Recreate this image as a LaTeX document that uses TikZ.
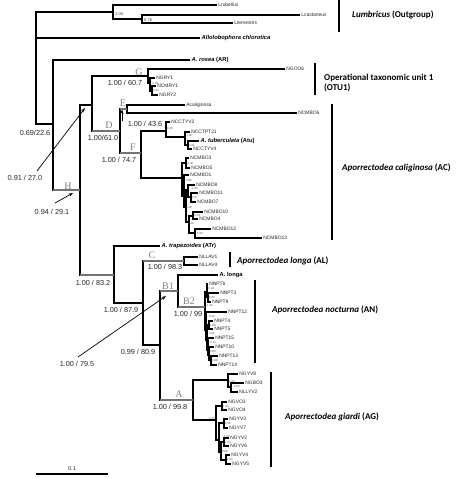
\documentclass[tikz,border=0pt]{standalone}
\usepackage{fontspec}
\setmainfont{Liberation Sans}
\newfontfamily\serifgl{Liberation Serif}
\newfontfamily\carl{Carlito}
\usetikzlibrary{arrows.meta}
\newcommand\mkedge[2]{\draw[branch] (#1) |- (#2);}
\newcommand\mkleaf[4]{\node[leaf] (#2) at (#3) {#4}; \draw[branch] (#1) |- (#2.west);}
\newcommand\mkspec[4]{\node[species] (#2) at (#3) {#4}; \draw[branch] (#1) |- (#2.west);}
\tikzset{
 branch/.style={line width=1.1pt},
 hl/.style={line width=1.5pt, draw=black!55},
 leaf/.style={anchor=west, inner sep=1.2pt, font=\fontsize{4.9}{5}\selectfont, text=black!85},
 species/.style={anchor=west, inner sep=1.5pt, font=\bfseries\fontsize{5.8}{6}\selectfont, text=black},
 sp/.style={anchor=west, inner sep=0pt, font=\fontsize{2.8}{3}\selectfont, text=black!70},
 spb/.style={anchor=west, inner sep=0pt, font=\fontsize{4}{4}\selectfont, text=black!80},
 supp/.style={inner sep=0pt, font=\fontsize{7.3}{8}\selectfont, text=black!85},
 lett/.style={inner sep=0pt, font=\serifgl\fontsize{10}{10}\selectfont, text=black!50},
 clade/.style={anchor=west, inner sep=0pt, align=left, font=\carl\bfseries\fontsize{9}{10.5}\selectfont},
 cbar/.style={line width=2pt},
 arr/.style={-{Stealth[length=4.5pt,width=3.2pt]}, line width=0.7pt},
}
\begin{document}
\begin{tikzpicture}[x=1pt,y=-1pt]
\useasboundingbox (0,0) rectangle (474,479);
\fill[white] (0,0) rectangle (474,479);
% ---------- outgroup ----------
\coordinate (root) at (36,68);
\coordinate (Lum) at (113,12);
\coordinate (nLc) at (142,19);
\mkedge{root}{Lum}
\mkleaf{Lum}{Lrub}{217,5}{Lrubellus}
\mkedge{Lum}{nLc}
\mkleaf{nLc}{Lcas}{300,15}{Lcastaneus}
\mkleaf{nLc}{Ltem}{233,23}{Ltemestris}
\node[spb] (s100a) at (115,14) {1.00};
\node[spb] (s076) at (144,20) {0.76};
\mkspec{root}{Allo}{200,38}{\textit{Allolobophora chlorotica}}
% ---------- main ----------
\coordinate (n069) at (53,124);
\mkedge{root}{n069}
\mkspec{n069}{Aros}{190,60}{\textit{A. rosea} (AR)}
\coordinate (nH) at (80,190);
\mkedge{n069}{nH}
\coordinate (n091) at (92,105);
\mkedge{nH}{n091}
% G / OTU1
\coordinate (nG) at (148,76);
\mkedge{n091}{nG}
\mkleaf{nG}{NGOO6}{285,69}{NGOO6}
\coordinate (g2) at (150,83);
\mkedge{nG}{g2}
\mkleaf{g2}{NGRY1}{155,78}{NGRY1}
\coordinate (g3) at (152,91);
\mkedge{g2}{g3}
\mkleaf{g3}{NCMRY1}{156,86}{NCMRY1}
\mkleaf{g3}{NGRY2}{158,95}{NGRY2}
\node[sp] (s034a) at (152.5,83.5) {0.34};
\node[sp] (s034b) at (153,90.5) {0.34};
% D
\coordinate (nD) at (120,131);
\mkedge{n091}{nD}
\coordinate (nE) at (127,109);
\mkedge{nD}{nE}
\mkleaf{nE}{Acal}{185,105}{Acaliginosa}
\mkleaf{nE}{NCMBO6}{297,113}{NCMBO6}
\coordinate (nF) at (141,153);
\mkedge{nD}{nF}
\coordinate (nTY) at (166,131);
\mkedge{nF}{nTY}
\mkleaf{nTY}{NCCTYV2}{170,122}{NCCTYV2}
\coordinate (nTu) at (185,137);
\mkedge{nTY}{nTu}
\mkleaf{nTu}{NCCTPT21}{190,132}{NCCTPT21}
\coordinate (nTu2) at (188,145);
\mkedge{nTu}{nTu2}
\mkspec{nTu2}{Atu}{199,141}{\textit{A. tuberculata} (Atu)}
\mkleaf{nTu2}{NCCTYV4}{192,149}{NCCTYV4}
\node[sp] (s045) at (167,128.5) {0.45};
\node[sp] (s100b) at (186.5,135.5) {1.00};
\node[sp] (s051) at (189,145.5) {0.51};
% NCMBO clade
\coordinate (nMB) at (182,178);
\mkedge{nF}{nMB}
\coordinate (m1) at (186,163);
\mkedge{nMB}{m1}
\mkleaf{m1}{NCMBO3}{189,158}{NCMBO3}
\mkleaf{m1}{NCMBO5}{190,168}{NCMBO5}
\coordinate (m2) at (184,196);
\mkedge{nMB}{m2}
\mkleaf{m2}{NCMBO1}{189,175}{NCMBO1}
\coordinate (m3) at (186,207);
\mkedge{m2}{m3}
\coordinate (m4) at (188,190);
\mkedge{m3}{m4}
\mkleaf{m4}{NCMBO8}{195,185}{NCMBO8}
\coordinate (m4b) at (191,197);
\mkedge{m4}{m4b}
\mkleaf{m4b}{NCMBO11}{198,193}{NCMBO11}
\mkleaf{m4b}{NCMBO7}{196,202}{NCMBO7}
\coordinate (m5) at (189,222);
\mkedge{m3}{m5}
\coordinate (m6) at (193,216);
\mkedge{m5}{m6}
\mkleaf{m6}{NCMBO10}{203,212}{NCMBO10}
\mkleaf{m6}{NCMBO4}{198,219}{NCMBO4}
\coordinate (m7) at (195,233);
\mkedge{m5}{m7}
\mkleaf{m7}{NCMBO12}{211,229}{NCMBO12}
\mkleaf{m7}{NCMBO13}{262,238}{NCMBO13}
\node[sp] (s046a) at (187.5,163.5) {0.46};
\node[sp] (s089) at (186,180.5) {0.89};
\node[sp] (s100c) at (192,189) {1.00};
\node[sp] (s047) at (192,197.5) {0.47};
\node[sp] (s048) at (186,207.5) {0.48};
\node[sp] (s062) at (194.5,215.5) {0.62};
\node[sp] (s046b) at (188,223.5) {0.46};
\node[sp] (s090) at (197,233.5) {0.90};
% lower part
\coordinate (n832) at (114,275);
\mkedge{nH}{n832}
\mkspec{n832}{ATr}{160,246}{\textit{A. trapezoides} (ATr)}
\coordinate (n879) at (143,303);
\mkedge{n832}{n879}
\coordinate (nC) at (184,261);
\mkedge{n879}{nC}
\mkleaf{nC}{NLLAV1}{198,257}{NLLAV1}
\mkleaf{nC}{NLLAV4}{198,265}{NLLAV4}
\coordinate (n809) at (160,345);
\mkedge{n879}{n809}
\coordinate (nB1) at (178,291);
\mkedge{n809}{nB1}
\mkspec{nB1}{Alonga}{218,275}{A. longa}
\coordinate (nB2) at (205,307);
\mkedge{nB1}{nB2}
\coordinate (p1) at (207,292);
\mkedge{nB2}{p1}
\mkleaf{p1}{NNPT6}{208,284}{NNPT6}
\coordinate (p1b) at (208,297);
\mkedge{p1}{p1b}
\mkleaf{p1b}{NNPT3}{219,293}{NNPT3}
\mkleaf{p1b}{NNPT9}{211,302}{NNPT9}
\coordinate (p2) at (206,330);
\mkedge{nB2}{p2}
\mkleaf{p2}{NNPT12}{227,312}{NNPT12}
\coordinate (p3) at (207,340);
\mkedge{p2}{p3}
\coordinate (p4) at (209,325);
\mkedge{p3}{p4}
\mkleaf{p4}{NNPT4}{213,321}{NNPT4}
\mkleaf{p4}{NNPT5}{213,329}{NNPT5}
\coordinate (p5) at (208,350);
\mkedge{p3}{p5}
\mkleaf{p5}{NNPT15}{214,338}{NNPT15}
\coordinate (p6) at (209,355);
\mkedge{p5}{p6}
\mkleaf{p6}{NNPT10}{214,347}{NNPT10}
\coordinate (p7) at (211,360);
\mkedge{p6}{p7}
\mkleaf{p7}{NNPT13}{218,356}{NNPT13}
\mkleaf{p7}{NNPT14}{217,365}{NNPT14}
\node[sp] (s093) at (208.5,289) {0.93};
\node[sp] (s085) at (209,297.5) {0.85};
\node[sp] (s100d) at (207,306) {1.00};
\node[sp] (s092a) at (209,317) {0.92};
\node[sp] (s088a) at (210,325.5) {0.88};
\node[sp] (s092b) at (209,334) {0.92};
\node[sp] (s074) at (210,343) {0.74};
\node[sp] (s084a) at (210,352) {0.84};
\node[sp] (s088b) at (212,361) {0.88};
% A clade
\coordinate (nA) at (193,400);
\mkedge{n809}{nA}
\coordinate (a1) at (228,380);
\mkedge{nA}{a1}
\mkleaf{a1}{NGYV8}{238,374}{NGYV8}
\coordinate (a1b) at (231,387);
\mkedge{a1}{a1b}
\mkleaf{a1b}{NGBO3}{244,383}{NGBO3}
\mkleaf{a1b}{NLLYV2}{238,392}{NLLYV2}
\coordinate (a2) at (216,420);
\mkedge{nA}{a2}
\coordinate (a3) at (222,406);
\mkedge{a2}{a3}
\mkleaf{a3}{NGVO3}{227,402}{NGVO3}
\mkleaf{a3}{NGVO4}{227,410}{NGVO4}
\coordinate (a4) at (219,440);
\mkedge{a2}{a4}
\coordinate (a5) at (224,423);
\mkedge{a4}{a5}
\mkleaf{a5}{NGYV3}{228,419}{NGYV3}
\mkleaf{a5}{NGYV7}{228,428}{NGYV7}
\coordinate (a6) at (221,452);
\mkedge{a4}{a6}
\coordinate (a7) at (224,442);
\mkedge{a6}{a7}
\mkleaf{a7}{NGYV2}{229,438}{NGYV2}
\mkleaf{a7}{NGYV6}{229,446}{NGYV6}
\coordinate (a8) at (226,460);
\mkedge{a6}{a8}
\mkleaf{a8}{NGYV4}{230,455}{NGYV4}
\mkleaf{a8}{NGYV5}{231,464}{NGYV5}
\node[sp] (s100e) at (229,381.5) {1.00};
\node[sp] (s084b) at (234,386.5) {0.84};
\node[sp] (s100f) at (209,418.5) {1.00};
\node[sp] (s100g) at (223,406.5) {1.00};
\node[sp] (s036) at (225,423.5) {0.36};
\node[sp] (s100h) at (224,436.5) {1.00};
\node[sp] (s100i) at (225,443) {1.00};
\node[sp] (s039) at (222,451.5) {0.39};
\node[sp] (s100j) at (227,459.5) {1.00};
% highlighted branches
\draw[hl] (nH |- n832) -- (n832);
\draw[hl] (n069 |- nH) -- (nH);
\draw[hl] (n091 |- nD) -- (nD);
\draw[hl] (nD |- nE) -- (nE);
\draw[hl] (nD |- nF) -- (nF);
\draw[hl] (n879 |- nC) -- (nC);
\draw[hl] (n809 |- nB1) -- (nB1);
\draw[hl] (nB1 |- nB2) -- (nB2);
\draw[hl] (n809 |- nA) -- (nA);
% letters
\node[lett] (LG) at (139,72) {G};
\node[lett] (LE) at (123,103) {E};
\node[lett] (LD) at (109,125) {D};
\node[lett] (LF) at (133,147) {F};
\node[lett] (LH) at (68,186) {H};
\node[lett] (LC) at (152,255) {C};
\node[lett] (LB1) at (168,286) {B1};
\node[lett] (LB2) at (189,301) {B2};
\node[lett] (LA) at (179,394) {A};
% support labels
\node[supp] (t069) at (35,133) {0.69/22.6};
\node[supp] (t607) at (125,83) {1.00 / 60.7};
\node[supp] (t610) at (103,138) {1.00/61.0};
\node[supp] (t747) at (119,160) {1.00 / 74.7};
\node[supp] (t832) at (93,283) {1.00 / 83.2};
\node[supp] (t879) at (121,310) {1.00 / 87.9};
\node[supp] (t983) at (165,267) {1.00 / 98.3};
\node[supp] (t809) at (138,352) {0.99 / 80.9};
\node[supp] (t99) at (188,314) {1.00 / 99};
\node[supp] (t998) at (170,407) {1.00 / 99.8};
\node[supp] (t436) at (145,123.5) {1.00 / 43.6};
\node[supp] (t091) at (25,178) {0.91 / 27.0};
\node[supp] (t094) at (52,212) {0.94 / 29.1};
\node[supp] (t795) at (77,364) {1.00 / 79.5};
% arrows
\coordinate (a091s) at (37,171); \coordinate (a091e) at (85,108);
\coordinate (a094s) at (55,203); \coordinate (a094e) at (73,193);
\coordinate (a795s) at (78,357); \coordinate (a795e) at (166,296);
\coordinate (a436s) at (122,121); \coordinate (a436e) at (122,109.5);
\draw[arr] (a091s) -- (a091e);
\draw[arr] (a094s) -- (a094e);
\draw[arr] (a795s) -- (a795e);
\draw[arr] (a436s) -- (a436e);
% clade bars
\coordinate (bLt) at (339,0); \coordinate (bLb) at (339,32);
\draw[cbar] (bLt) -- (bLb);
\node[clade] (cL) at (352,15) {\textit{Lumbricus} (Outgroup)};
\coordinate (bOt) at (315,63); \coordinate (bOb) at (315,95);
\draw[cbar] (bOt) -- (bOb);
\node[clade] (cO) at (324,83) {Operational taxonomic unit 1\\(OTU1)};
\coordinate (bCt) at (332,104); \coordinate (bCb) at (332,240);
\draw[cbar] (bCt) -- (bCb);
\node[clade] (cC) at (342,168) {\textit{Aporrectodea caliginosa} (AC)};
\coordinate (bLot) at (230,252); \coordinate (bLob) at (230,267);
\draw[cbar] (bLot) -- (bLob);
\node[clade] (cLo) at (237,261) {\textit{Aporrectodea longa} (AL)};
\coordinate (bNt) at (255,280); \coordinate (bNb) at (255,363);
\draw[cbar] (bNt) -- (bNb);
\node[clade] (cN) at (272,310) {\textit{Aporrectodea nocturna} (AN)};
\coordinate (bGt) at (271,372); \coordinate (bGb) at (271,467);
\draw[cbar] (bGt) -- (bGb);
\node[clade] (cG) at (285,417) {\textit{Aporrectodea giardi} (AG)};
% scale bar
\coordinate (sb1) at (36,474); \coordinate (sb2) at (108,474);
\draw[line width=1.1pt] (sb1) -- (sb2);
\node[leaf, anchor=south, inner sep=0pt, font=\fontsize{5.5}{6}\selectfont] (sbl) at (72,470.5) {0.1};
\end{tikzpicture}
\end{document}
